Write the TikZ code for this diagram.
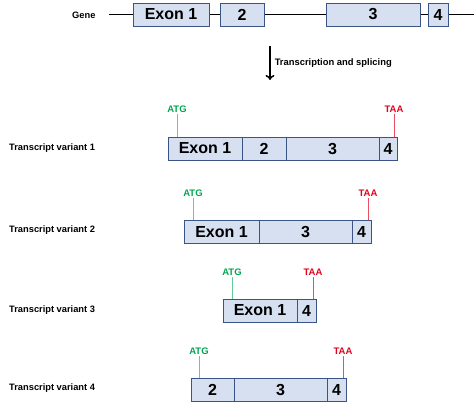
\documentclass[tikz,border=0pt]{standalone}
\usepackage{fontspec}
\setmainfont{Liberation Sans}
\usepackage{xcolor}
\usetikzlibrary{arrows.meta}
\definecolor{exonfill}{HTML}{D7E0F1}
\definecolor{exonline}{HTML}{3B5486}
\definecolor{startgreen}{HTML}{00A650}
\definecolor{stopred}{HTML}{E2001A}

\begin{document}
\begin{tikzpicture}[x=1pt,y=-1pt,
		exon/.style={draw=exonline,fill=exonfill,line width=0.8pt,minimum height=23pt,inner sep=0pt,font=\fontsize{16}{18}\selectfont\bfseries},
		varlabel/.style={anchor=west,inner sep=0pt,font=\fontsize{9.3}{10}\selectfont\bfseries},
		atg/.style={anchor=south,inner sep=1.5pt,text=startgreen,font=\fontsize{9.5}{10}\selectfont\bfseries},
		taa/.style={anchor=south,inner sep=1.5pt,text=stopred,font=\fontsize{9.5}{10}\selectfont\bfseries}]
			\useasboundingbox (0,0) rectangle (474,410);
			
			% gene
			\coordinate (gs) at (109,14.5);
			\coordinate (ge) at (474,14.5);
			\node [varlabel] (gene) at (72,15) {Gene};
			\draw [line width=1.6pt] (gs) -- (ge);
			\node [exon,minimum width=76pt] (g1) at (171,14.5) {Exon 1};
			\node [exon,minimum width=44pt] (g2) at (242,14.5) {2};
			\node [exon,minimum width=94pt] (g3) at (373,14.5) {3};
			\node [exon,minimum width=20pt] (g4) at (438,14.5) {4};
			
			\coordinate (a1) at (270,46);
			\coordinate (a2) at (270,80);
			\draw [-{To[length=5pt,width=9pt]},line width=1.5pt] (a1) -- node [right=4pt,inner sep=0pt,font=\fontsize{9.4}{10}\selectfont\bfseries] {Transcription and splicing} (a2);
			
			% variant 1
			\node [varlabel] (t1) at (9,148) {Transcript variant 1};
			\node [exon,minimum width=74pt] (v1a) at (205,148.5) {Exon 1};
			\node [exon,minimum width=44pt] (v1b) at (264,148.5) {2};
			\node [exon,minimum width=93pt] (v1c) at (332.5,148.5) {3};
			\node [exon,minimum width=18pt] (v1d) at (388,148.5) {4};
			\node [atg] (s1) at (177,114) {ATG};
			\node [taa] (e1) at (394,114) {TAA};
			
			% variant 2
			\node [varlabel] (t2) at (9,230) {Transcript variant 2};
			\node [exon,minimum width=75pt] (v2a) at (221.5,232) {Exon 1};
			\node [exon,minimum width=93pt] (v2b) at (305.5,232) {3};
			\node [exon,minimum width=19pt] (v2c) at (361.5,232) {4};
			\node [atg] (s2) at (193,198) {ATG};
			\node [taa] (e2) at (368,198) {TAA};
			
			% variant 3
			\node [varlabel] (t3) at (9,310) {Transcript variant 3};
			\node [exon,minimum width=74pt] (v3a) at (260,310.5) {Exon 1};
			\node [exon,minimum width=19pt] (v3b) at (306.5,310.5) {4};
			\node [atg] (s3) at (232,277) {ATG};
			\node [taa] (e3) at (313,277) {TAA};
			
			% variant 4
			\node [varlabel] (t4) at (9,388) {Transcript variant 4};
			\node [exon,minimum width=43pt] (v4a) at (212.5,389.5) {2};
			\node [exon,minimum width=93pt] (v4b) at (280.5,389.5) {3};
			\node [exon,minimum width=19pt] (v4c) at (336.5,389.5) {4};
			\node [atg] (s4) at (199,356) {ATG};
			\node [taa] (e4) at (343,356) {TAA};
			
			\path [draw=startgreen!60,line width=0.6pt]
			(s1.south) -- (s1.south |- v1a.north)
			(s2.south) -- (s2.south |- v2a.north)
			(s3.south) -- (s3.south |- v3a.north)
			(s4.south) -- (s4.south |- v4a.north);
			\path [draw=stopred!70,line width=0.6pt]
			(e1.south) -- (e1.south |- v1d.north)
			(e2.south) -- (e2.south |- v2c.north)
			(e3.south) -- (e3.south |- v3b.north)
			(e4.south) -- (e4.south |- v4c.north);
		\end{tikzpicture}
\end{document}
